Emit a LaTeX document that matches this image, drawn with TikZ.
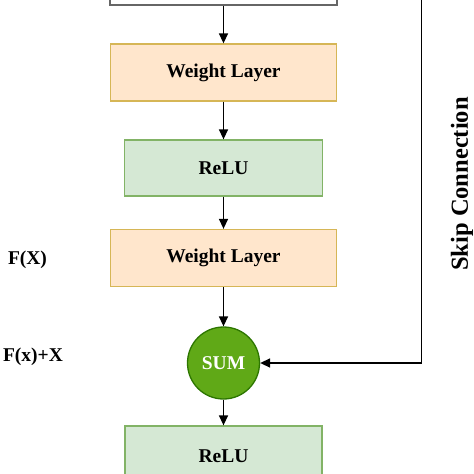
\documentclass[tikz,border=0pt]{standalone}
\usepackage{fontspec}
\setmainfont{Liberation Serif}
\usetikzlibrary{arrows.meta}
\definecolor{peachfill}{HTML}{FFE6CC}
\definecolor{peachdraw}{HTML}{D6B656}
\definecolor{greenfill}{HTML}{D5E8D4}
\definecolor{greendraw}{HTML}{82B366}
\definecolor{sumfill}{HTML}{60A917}
\definecolor{sumdraw}{HTML}{2D7600}
\definecolor{topdraw}{HTML}{666666}
\tikzset{
  lbl/.style={font=\fontsize{19.5}{22}\selectfont\bfseries, text=black},
  box/.style={rectangle, line width=1.3pt, inner sep=0pt, lbl},
  wbox/.style={box, fill=peachfill, draw=peachdraw, minimum width=226pt, minimum height=57pt},
  rbox/.style={box, fill=greenfill, draw=greendraw, minimum width=198pt, minimum height=56pt},
  conn/.style={line width=1.4pt, -{Triangle[length=10pt,width=9pt]}},
}
\begin{document}
\begin{tikzpicture}[x=1pt,y=-1pt]
\useasboundingbox (0,0) rectangle (474,474);
\fill[white] (0,0) rectangle (474,474);
\node[box, fill=white, draw=topdraw, minimum width=227pt, minimum height=60pt] (top) at (223.5,-25) {};
\node[wbox] (wl1) at (223.5,72.5) {Weight Layer};
\node[rbox] (relu1) at (223.5,168) {ReLU};
\node[wbox] (wl2) at (223.5,258) {Weight Layer};
\node[circle, fill=sumfill, draw=sumdraw, line width=1.3pt, minimum size=72pt, inner sep=0pt, lbl, text=white] (sum) at (223.5,363) {SUM};
\node[rbox, minimum width=197pt, minimum height=60pt] (relu2) at (223.5,456) {ReLU};
\node[lbl] (fx) at (27.5,260) {F(X)};
\node[lbl] (fxx) at (33,357) {F(x)+X};
\node[lbl, rotate=90, inner sep=1pt, font=\fontsize{24.5}{28}\selectfont\bfseries] (skip) at (462,184) {Skip Connection};
\coordinate (s0) at (421.5,-5);
\coordinate (s1) at (421.5,363);
\draw[conn] (top.south) -- (wl1.north);
\draw[conn] (wl1.south) -- (relu1.north);
\draw[conn] (relu1.south) -- (wl2.north);
\draw[conn] (wl2.south) -- (sum.north);
\draw[conn] (sum.south) -- (relu2.north);
\draw[conn] (s0) -- (s1) -- (sum.east);
\end{tikzpicture}
\end{document}
